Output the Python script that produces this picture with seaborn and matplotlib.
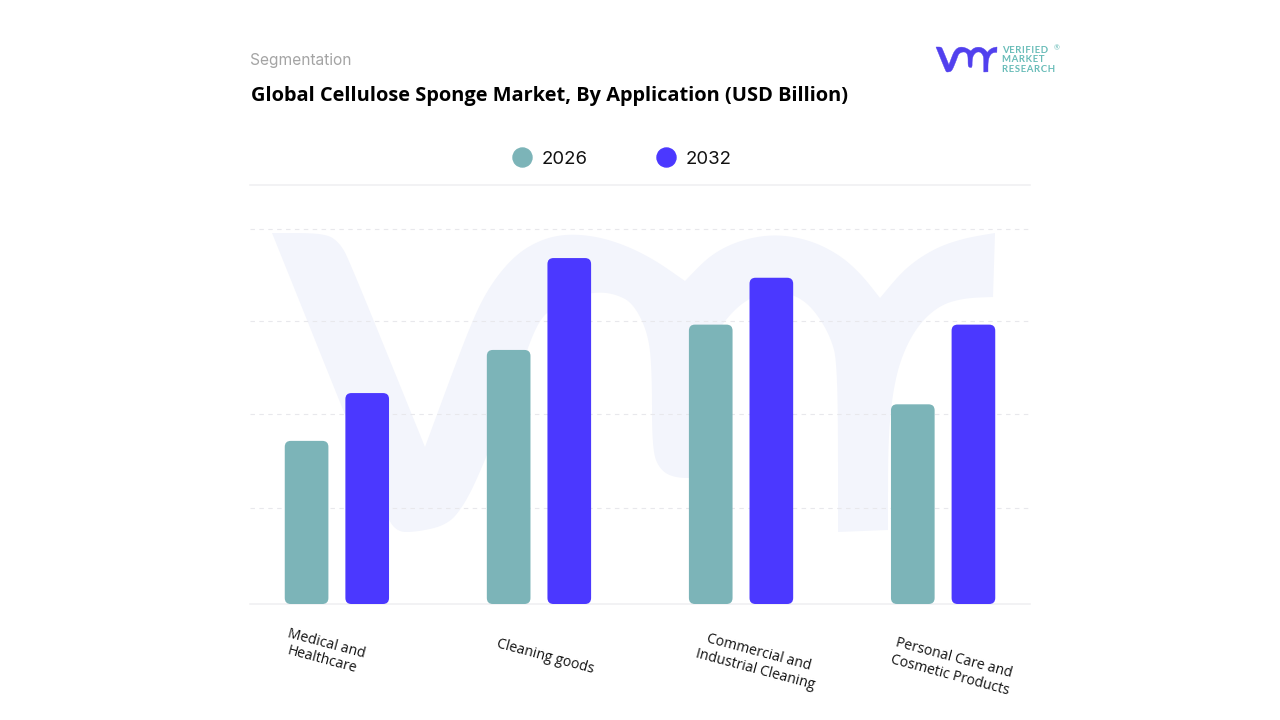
import numpy as np
import pandas as pd
import seaborn as sns
import matplotlib.pyplot as plt
from matplotlib.lines import Line2D
from matplotlib.patches import FancyBboxPatch, Polygon
from matplotlib.transforms import ScaledTranslation

# values (USD Billion, the chart has no printed scale)
categories = ['Medical and\nHealthcare', 'Cleaning goods',
              'Commercial and\nIndustrial Cleaning', 'Personal Care and\nCosmetic Products']
years = ['2026', '2032']
values_2026 = [1.74, 2.71, 2.98, 2.13]
values_2032 = [2.25, 3.69, 3.48, 2.98]
grid_levels = [1.024, 2.027, 3.019, 4.0]

TEAL = '#7cb4b8'
BLUE = '#4b38ff'
PALE = '#f3f5fc'
W, H = 1280, 720

# outline of the vmr logo, in pixels of the big background version
logo_outline = np.array([
    (272, 233), (325, 233), (340, 243), (350, 262), (425, 447), (470, 325), (490, 285),
    (515, 255), (540, 240), (565, 234), (595, 236), (625, 245), (655, 260), (685, 281),
    (710, 255), (740, 240), (775, 234), (810, 240), (840, 255), (862, 275), (880, 298),
    (905, 268), (935, 248), (965, 238), (995, 233), (993, 297), (965, 298), (940, 305),
    (918, 325), (902, 355), (893, 390), (888, 440), (888, 530), (838, 532), (838, 365),
    (830, 335), (812, 307), (793, 294), (770, 291), (745, 300), (723, 322), (708, 350),
    (700, 400), (700, 478), (675, 478), (660, 470), (652, 450), (652, 370), (648, 333),
    (633, 303), (615, 294), (597, 292), (575, 296), (555, 306), (537, 322), (517, 380),
    (480, 473), (463, 507), (447, 525), (417, 532), (395, 532), (383, 507), (343, 410),
    (303, 310),
], dtype=float)
sharp_points = [0, 4, 13, 20, 24, 25, 32, 33]


def smooth_outline(points, sharp, rounds=3):
    """Corner cutting, the listed points stay sharp."""
    pts = [(p, i in sharp) for i, p in enumerate(points)]
    for _ in range(rounds):
        out = []
        for i, (p, keep) in enumerate(pts):
            prev = pts[i - 1][0]
            nxt = pts[(i + 1) % len(pts)][0]
            if keep:
                out.append((p, True))
            else:
                out.append((0.75 * p + 0.25 * prev, False))
                out.append((0.75 * p + 0.25 * nxt, False))
        pts = out
    return np.array([p for p, _ in pts])


sns.set_theme(style='white')
fig = plt.figure(figsize=(W / 100, H / 100), dpi=100)
fig.patch.set_facecolor('white')

# pixel canvas behind the chart for watermark and header
bg = fig.add_axes([0, 0, 1, 1], zorder=0)
bg.set_xlim(0, W)
bg.set_ylim(H, 0)
bg.axis('off')
outline = smooth_outline(logo_outline, sharp_points)
bg.add_patch(Polygon(outline, closed=True, fc=PALE, ec='none'))

small = (outline - [272, 233]) * [61 / 723, 25 / 299] + [936, 47]
bg.add_patch(Polygon(small, closed=True, fc='#5140ee', ec='#5140ee', lw=0.3))

bg.text(250, 60.5, 'Segmentation', fontsize=11.2, color='#a4a4a4', family='Inter', va='center')
bg.text(251, 96, 'Global Cellulose Sponge Market, By Application (USD Billion)', fontsize=14.45,
        color='black', family='Open Sans', weight='bold', va='center')

hair = '\u200a'
for word, ypos in zip(['VERIFIED', 'MARKET', 'RESEARCH'], [50.5, 60, 69.5]):
    bg.text(1002, ypos, hair.join(word), fontsize=6.9, color='#68bcb8', weight='bold',
            family=['Lato', 'DejaVu Sans'], va='center')
bg.text(1057, 47.5, '\u00ae', fontsize=5, color='#68bcb8', family='Lato', ha='center', va='center')

# main axes lined up with the plot frame of the reference
ax = fig.add_axes([250 / W, 1 - 604 / H, 780 / W, 419 / H], zorder=1)
ax.patch.set_alpha(0)

df = pd.DataFrame({
    'Application': categories * 2,
    'Year': [years[0]] * 4 + [years[1]] * 4,
    'Value': values_2026 + values_2032,
})
sns.barplot(data=df, x='Application', y='Value', hue='Year', palette=[TEAL, BLUE],
            width=0.6, gap=0.28, saturation=1, ax=ax, legend=False, errorbar=None)

ax.set_xlim(-0.43, 3.43)
ax.set_ylim(0, 419 / 93.75)
ax.set_yticks(grid_levels)
ax.set_yticklabels([])
ax.set_xlabel('')
ax.set_ylabel('')
ax.tick_params(length=0)
ax.set_axisbelow(True)
ax.yaxis.grid(True, color='#e8e8ec', lw=0.8, ls=(0, (4, 4)))
ax.xaxis.grid(False)
for side in ['left', 'right']:
    ax.spines[side].set_visible(False)
for side in ['top', 'bottom']:
    ax.spines[side].set_color('#efeff1')
    ax.spines[side].set_linewidth(1.1)

# swap the square bars for rounded ones of the same size
px_x = 780 / (ax.get_xlim()[1] - ax.get_xlim()[0])
px_y = 93.75
for bar in list(ax.patches):
    round_bar = FancyBboxPatch((bar.get_x(), bar.get_y()), bar.get_width(), bar.get_height(),
                               boxstyle=f'round,pad=0,rounding_size={6 / px_x}',
                               mutation_aspect=px_x / px_y,
                               fc=bar.get_facecolor(), ec='none', zorder=3)
    ax.add_patch(round_bar)
    bar.remove()

# rotated labels, each nudged from its tick (pixels right, pixels down)
label_shift = [(-13, 43), (6, 48), (16, 52), (9, 58)]
ax.set_xticks(range(4))
ax.set_xticklabels(categories)
for label, (dx, dy) in zip(ax.get_xticklabels(), label_shift):
    label.set(rotation=-15, rotation_mode='anchor', ha='center', va='center', fontsize=10.1,
              color='#111111', family='Open Sans', linespacing=1.2)
    label.set_transform(label.get_transform() + ScaledTranslation(dx / 100, -dy / 100, fig.dpi_scale_trans))

handles = [Line2D([], [], ls='', marker='o', ms=13.7, mfc=c, mec=c) for c in [TEAL, BLUE]]
ax.legend(handles, years, loc='center', bbox_to_anchor=(620.2 / W, 1 - 159 / H),
          bbox_transform=fig.transFigure, ncol=2, frameon=False, columnspacing=3.55,
          handletextpad=0.33, handlelength=1.4,
          prop={'family': 'Inter', 'size': 13.4}, labelcolor='#111111')

fig.savefig('out.png', dpi=100)
